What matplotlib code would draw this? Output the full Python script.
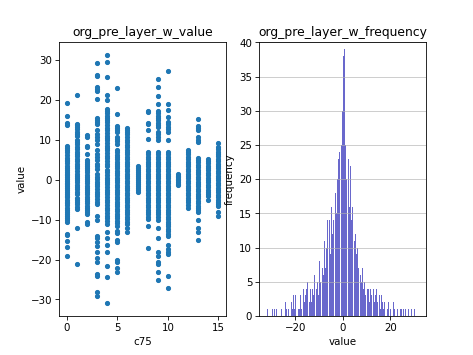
import matplotlib
matplotlib.use("Agg")
import matplotlib.pyplot as plt
import numpy as np

# ---- scatter data: values per channel (x = channel index) ----
ch0 = [19.2, 15.8, 14.1, 13.7, 8.4, 8.0, 7.3, 6.8, 6.2, 5.5, 5.0, 4.6, 4.1, 3.5, 3.0, 2.4, 1.9, 1.5, 1.1, 0.6, 0.2,
       -0.3, -0.8, -1.2, -1.7, -2.1, -2.6, -3.0, -3.5, -4.0, -4.4, -5.0, -5.5, -5.9, -6.4, -7.0, -7.5, -8.0, -8.6,
       -9.1, -9.6, -10.2, -10.6, -13.5, -13.9, -15.3, -16.8, -19.0]
ch1 = [21.1, 14.0, 13.6, 13.2, 12.7, 12.0, 11.4, 10.8, 10.0, 9.5, 8.8, 8.2, 7.6, 7.0, 6.3, 5.9, 5.2, 4.6, 4.0, 3.3,
       2.8, 2.1, 1.5, 1.0, 0.4, -0.2, -0.7, -1.3, -1.8, -2.4, -3.0, -3.5, -4.5, -5.0, -5.6, -6.2, -6.8, -7.4,
       -12.0, -21.0]
ch2 = [11.2, 10.7, 8.4, 8.1, 6.3, 5.0, 4.5, 4.0, 3.4, 2.9, 2.3, 1.8, 1.2, 0.7, 0.2, -0.4, -0.9, -1.5, -2.0, -2.6,
       -3.1, -3.7, -4.3, -4.8, -5.4, -5.9, -6.5, -7.0, -7.6, -8.2, -8.6, -10.5, -11.0]
ch3 = [29.2, 26.2, 25.8, 23.2, 22.7, 22.2, 20.1, 15.5, 15.0, 14.4, 13.8, 12.3, 11.5, 10.7, 9.8, 9.0, 7.5, 6.3, 5.7,
       5.0, 4.0, 3.4, 2.7, 1.5, 0.7, 0.1, -0.5, -1.1, -1.7, -2.3, -3.0, -3.6, -4.2, -4.9, -5.5, -6.0, -9.0, -10.0,
       -14.0, -14.5, -15.5, -16.5, -18.0, -19.5, -20.5, -23.5, -24.0, -28.0, -29.0]
ch4 = [31.2, 29.3, 25.6, 21.2, 19.8, 17.6, 17.2, 16.6, 16.0, 15.4, 14.8, 14.3, 13.6, 13.0, 12.3, 11.7, 11.0, 10.4,
       9.8, 9.2, 8.5, 7.9, 7.3, 6.6, 6.0, 5.4, 4.7, 4.0, 3.4, 2.5, 1.8, 1.2, 0.5, 0.0, -0.6, -1.2, -1.8, -2.5, -3.1,
       -3.7, -4.4, -5.0, -5.7, -6.3, -7.0, -7.6, -8.3, -9.0, -9.6, -10.3, -11.0, -13.0, -14.7, -16.3, -18.2, -21.5,
       -24.3, -31.0]
ch5 = [23.0, 16.3, 13.5, 13.0, 12.4, 11.9, 10.7, 10.2, 9.6, 9.0, 7.3, 6.8, 6.2, 5.7, 5.1, 4.5, 4.0, 3.4, 2.8, 2.2,
       1.7, 1.1, 0.5, -0.1, -0.7, -1.3, -1.9, -2.5, -3.1, -3.7, -4.3, -4.9, -5.5, -6.1, -6.7, -7.3, -7.9, -8.5,
       -9.1, -9.7, -10.3, -10.9, -11.5, -12.8, -13.3, -15.0, -15.5, -20.0, -20.5, -22.0, -23.0]
ch6 = [13.0, 12.3, 11.8, 11.3, 10.6, 10.0, 9.3, 8.7, 8.1, 7.5, 6.9, 6.3, 5.7, 5.1, 4.5, 3.9, 3.3, 2.7, 2.1, 1.5, 0.9,
       0.3, -0.3, -0.9, -1.5, -2.1, -2.7, -3.3, -3.9, -4.5, -5.1, -5.7, -6.3, -6.9, -7.5, -8.1, -8.7, -9.3, -9.9,
       -10.5, -11.0, -12.0, -13.0]
ch7 = [3.4, 2.9, 2.4, 1.9, 1.4, 0.9, 0.4, -0.1, -0.6, -1.1, -1.6, -2.1, -2.6, -3.0]
ch8 = [17.2, 16.8, 14.2, 13.8, 12.3, 10.2, 6.9, 6.3, 5.7, 5.1, 4.5, 3.9, 3.3, 2.7, 2.1, 1.5, 0.9, 0.3, -0.3, -0.9,
       -1.5, -2.1, -2.7, -3.3, -3.9, -4.5, -5.1, -5.7, -6.3, -6.9, -7.5, -8.1, -8.7, -9.3, -9.8, -11.7, -17.0]
ch9 = [25.1, 23.1, 20.9, 18.8, 17.2, 16.6, 16.0, 15.4, 14.8, 14.2, 13.6, 13.2, 12.0, 11.4, 10.6, 9.8, 6.9, 6.3, 5.7,
       5.1, 4.5, 3.9, 3.3, 2.7, 2.1, 1.5, 0.9, 0.3, -0.3, -0.9, -1.5, -2.1, -2.7, -3.3, -3.9, -4.5, -5.1, -5.7,
       -6.3, -6.9, -7.5, -8.1, -8.7, -9.3, -10.0, -12.0, -14.5, -18.0, -19.0, -20.5, -21.0, -23.0, -25.0]
ch10 = [27.2, 18.9, 17.3, 15.7, 14.4, 13.8, 13.2, 12.6, 11.9, 9.8, 6.9, 6.3, 5.7, 5.1, 4.5, 3.9, 3.3, 2.7, 2.1, 1.5,
        0.9, 0.3, -0.3, -0.9, -1.5, -2.1, -2.7, -3.3, -3.9, -4.5, -5.1, -5.7, -6.3, -6.9, -7.5, -8.1, -8.7, -9.3,
        -9.9, -10.5, -11.1, -11.7, -12.3, -12.9, -13.5, -14.0, -16.3, -17.3, -18.0, -18.7, -24.0, -27.0]
ch11 = [1.4, 1.0, 0.6, 0.2, -0.2, -0.6, -1.0, -1.3]
ch12 = [7.3, 6.9, 6.3, 5.7, 5.1, 4.5, 3.9, 3.3, 2.7, 2.1, 1.5, 0.9, 0.3, -0.3, -0.9, -1.5, -2.1, -2.7, -3.3, -3.9,
        -4.5, -5.1, -5.7, -6.3, -7.0]
ch13 = [15.2, 13.5, 13.0, 12.3, 10.7, 10.0, 9.4, 5.5, 4.9, 4.3, 3.7, 3.1, 2.5, 1.9, 1.3, 0.7, 0.1, -0.5, -1.1, -1.7,
        -2.3, -2.9, -3.5, -4.1, -4.7, -5.3, -5.9, -6.5, -7.1, -7.7, -8.2, -10.0, -12.0, -13.0, -15.0]
ch14 = [5.2, 4.7, 4.1, 3.5, 2.9, 2.3, 1.7, 1.1, 0.5, -0.1, -0.7, -1.3, -1.9, -2.5, -3.1, -3.6, -4.0, -5.0]
ch15 = [9.2, 8.2, 7.6, 7.0, 6.4, 5.8, 5.2, 4.6, 4.0, 3.4, 2.8, 2.2, 1.6, 1.0, 0.4, -0.2, -0.8, -1.4, -2.0, -2.6,
        -3.2, -3.8, -4.4, -5.0, -5.6, -6.2, -6.6, -8.0, -9.0]
channels = [ch0, ch1, ch2, ch3, ch4, ch5, ch6, ch7, ch8, ch9, ch10, ch11, ch12, ch13, ch14, ch15]

# ---- histogram data: counts per 0.5-wide bin from -32 to 32 ----
hist_range = (-32.0, 32.0)
hist_counts = [
    1, 0, 0, 0,  1, 0, 1, 0,  1, 0, 0, 0,  1, 0, 0, 2,
    1, 0, 1, 0,  2, 1, 3, 1,  3, 0, 1, 1,  3, 1, 4, 2,
    3, 4, 5, 2,  4, 2, 4, 3,  6, 4, 5, 3,  8, 5, 7, 6,
    11, 7, 10, 14,  14, 9, 16, 12,  14, 18, 15, 20,  23, 24, 25, 30,
    38, 39, 25, 20,  23, 16, 22, 14,  16, 11, 12, 9,  10, 7, 6, 5,
    7, 4, 5, 3,  4, 4, 2, 4,  3, 4, 2, 3,  4, 2, 3, 1,
    3, 2, 1, 2,  0, 1, 2, 0,  1, 0, 2, 1,  0, 0, 1, 0,
    1, 1, 0, 1,  1, 0, 0, 1,  0, 1, 0, 0,  1, 0, 0, 0,
]

fig, (ax1, ax2) = plt.subplots(1, 2, figsize=(6.4, 4.8), dpi=74)

for i, vals in enumerate(channels):
    ax1.plot([i] * len(vals), vals, 'o', markersize=4, color='#1f77b4', linestyle='none')
ax1.set_title('org_pre_layer_w_value')
ax1.set_xlabel('c75')
ax1.set_ylabel('value')

edges = np.linspace(hist_range[0], hist_range[1], len(hist_counts) + 1)
centers = (edges[:-1] + edges[1:]) / 2
ax2.hist(centers, bins=edges, weights=hist_counts, color='#0504aa', alpha=0.6, rwidth=0.85)
ax2.grid(axis='y', alpha=0.75)
ax2.set_ylim(0, 40)
ax2.set_title('org_pre_layer_w_frequency')
ax2.set_xlabel('value')
ax2.set_ylabel('frequency')

fig.savefig('out.png', dpi=74)
